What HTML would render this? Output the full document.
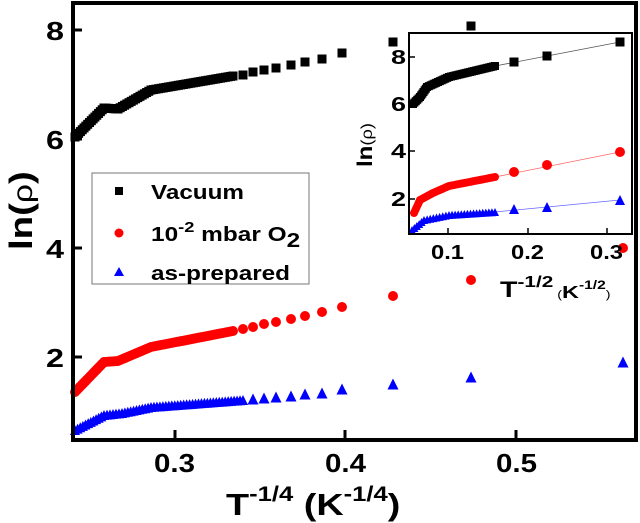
<!DOCTYPE html>
<html><head><meta charset="utf-8"><style>
html,body{margin:0;padding:0;background:#fff;}
svg{display:block;font-family:"Liberation Sans",Arial,sans-serif;font-weight:bold;}
</style></head><body>
<svg id="s" width="640" height="523" viewBox="0 0 640 523" xmlns="http://www.w3.org/2000/svg">
<rect x="0" y="0" width="640" height="523" fill="#fff"/>
<g id="data"></g>
<rect x="73" y="3" width="563" height="437" fill="none" stroke="#000" stroke-width="4"/>
<g stroke="#000" stroke-width="3">
<line x1="175" y1="440" x2="175" y2="430"/><line x1="345" y1="440" x2="345" y2="430"/><line x1="516" y1="440" x2="516" y2="430"/>
<line x1="73" y1="30" x2="82" y2="30"/><line x1="73" y1="139" x2="82" y2="139"/><line x1="73" y1="248" x2="82" y2="248"/><line x1="73" y1="357" x2="82" y2="357"/>
</g>
<g font-size="26">
<text x="154" y="472" textLength="41" lengthAdjust="spacingAndGlyphs">0.3</text>
<text x="325" y="472" textLength="41" lengthAdjust="spacingAndGlyphs">0.4</text>
<text x="496" y="472" textLength="41" lengthAdjust="spacingAndGlyphs">0.5</text>
<text x="46" y="40" textLength="18" lengthAdjust="spacingAndGlyphs">8</text>
<text x="46" y="149" textLength="18" lengthAdjust="spacingAndGlyphs">6</text>
<text x="46" y="258" textLength="18" lengthAdjust="spacingAndGlyphs">4</text>
<text x="46" y="367" textLength="18" lengthAdjust="spacingAndGlyphs">2</text>
</g>
<g transform="translate(226,515) scale(1.22,1)">
<text x="0" y="0" font-size="31">T<tspan font-size="21" dy="-14">-1/4</tspan><tspan font-size="31" dy="14"> (K</tspan><tspan font-size="21" dy="-14">-1/4</tspan><tspan font-size="31" dy="14">)</tspan></text>
</g>
<g transform="translate(32,250) rotate(-90) scale(1.2,1)">
<text x="0" y="0" font-size="32">ln(<tspan font-weight="normal" font-size="28">ρ</tspan>)</text>
</g>
<rect x="92" y="173" width="217" height="111" fill="#fff" stroke="#777" stroke-width="1"/>
<rect x="115" y="187" width="8" height="8" fill="#000"/>
<circle cx="119" cy="233" r="4.5" fill="#f00"/>
<polygon points="119,267 124,276 114,276" fill="#00f"/>
<g font-size="20">
<text x="151" y="199" textLength="93" lengthAdjust="spacingAndGlyphs">Vacuum</text>
<g transform="translate(151,241) scale(1.22,1)"><text x="0" y="0">10<tspan font-size="15" dy="-9">-2</tspan><tspan font-size="20" dy="9"> mbar O</tspan><tspan font-size="20" dy="6">2</tspan></text></g>
<text x="151" y="280" textLength="139" lengthAdjust="spacingAndGlyphs">as-prepared</text>
</g>
<g id="inset"></g>
<rect x="409" y="33" width="223" height="201" fill="none" stroke="#000" stroke-width="2"/>
<g stroke="#000" stroke-width="1.5">
<line x1="448" y1="234" x2="448" y2="228"/><line x1="528" y1="234" x2="528" y2="228"/><line x1="607" y1="234" x2="607" y2="228"/>
<line x1="409" y1="57" x2="415" y2="57"/><line x1="409" y1="104" x2="415" y2="104"/><line x1="409" y1="151" x2="415" y2="151"/><line x1="409" y1="199" x2="415" y2="199"/>
</g>
<g font-size="20">
<text x="431" y="259" textLength="33" lengthAdjust="spacingAndGlyphs">0.1</text>
<text x="511" y="259" textLength="33" lengthAdjust="spacingAndGlyphs">0.2</text>
<text x="590" y="259" textLength="33" lengthAdjust="spacingAndGlyphs">0.3</text>
<text x="391" y="64" textLength="15" lengthAdjust="spacingAndGlyphs">8</text>
<text x="391" y="111" textLength="15" lengthAdjust="spacingAndGlyphs">6</text>
<text x="391" y="158" textLength="15" lengthAdjust="spacingAndGlyphs">4</text>
<text x="391" y="206" textLength="15" lengthAdjust="spacingAndGlyphs">2</text>
</g>
<g transform="translate(372,167) rotate(-90)">
<text x="0" y="0" font-size="21" textLength="44" lengthAdjust="spacingAndGlyphs">ln<tspan font-weight="normal" font-size="16">(ρ)</tspan></text>
</g>
<g transform="translate(500,297) scale(1.3,1)">
<text x="0" y="0" font-size="22">T<tspan font-size="16" dy="-10">-1/2</tspan><tspan font-size="11" font-weight="normal" dy="11"> (</tspan><tspan font-size="18" dy="0">K</tspan><tspan font-size="12" dy="-9">-1/2</tspan><tspan font-size="11" font-weight="normal" dy="9">)</tspan></text>
</g>
</svg>
<script>
var NS="http://www.w3.org/2000/svg";
function el(p,t,a){var e=document.createElementNS(NS,t);for(var k in a)e.setAttribute(k,a[k]);p.appendChild(e);return e;}
function mk(p,type,x,y,s){
 if(type==0) el(p,"rect",{x:x-s/2,y:y-s/2,width:s,height:s,fill:"#000"});
 else if(type==1) el(p,"circle",{cx:x,cy:y,r:s/2,fill:"#f00"});
 else el(p,"polygon",{points:(x)+","+(y-s/2)+" "+(x+s/2)+","+(y+s/2)+" "+(x-s/2)+","+(y+s/2),fill:"#00f"});
}
function path(p,type,pts,step,s){
 for(var i=0;i<pts.length-1;i++){var a=pts[i],b=pts[i+1];var d=Math.hypot(b[0]-a[0],b[1]-a[1]);var n=Math.max(1,Math.round(d/step));
  for(var j=0;j<n;j++){var t=j/n;mk(p,type,a[0]+(b[0]-a[0])*t,a[1]+(b[1]-a[1])*t,s);}}
 var l=pts[pts.length-1];mk(p,type,l[0],l[1],s);
}
var g=document.getElementById("data");
path(g,0,[[75,137],[104,108],[118,109],[151,90],[233,76]],2.5,9);
path(g,1,[[75,392],[104,362],[118,361],[151,347],[233,331]],2.5,10);
path(g,2,[[75,430],[104,415],[122,413],[151,407],[243,400]],3,10);
[[243,75],[253,72],[264,70],[276,68],[291,65],[305,62],[322,59],[342,53],[393,42],[471,26]].forEach(function(p){mk(g,0,p[0],p[1],9);});
[[243,329],[253,327],[264,324],[276,322],[291,319],[305,316],[322,312],[342,307],[393,296],[471,280],[623,248]].forEach(function(p){mk(g,1,p[0],p[1],10);});
[[253,399],[264,398],[276,397],[291,396],[305,394],[322,393],[342,389],[393,384],[471,377],[623,362]].forEach(function(p){mk(g,2,p[0],p[1],11);});
var h=document.getElementById("inset");
el(h,"rect",{x:409,y:33,width:223,height:201,fill:"#fff"});
el(h,"line",{x1:495,y1:66,x2:620,y2:42,stroke:"#555","stroke-width":0.8});
el(h,"line",{x1:495,y1:177,x2:620,y2:152,stroke:"#f66","stroke-width":0.8});
el(h,"line",{x1:495,y1:212,x2:620,y2:200,stroke:"#66f","stroke-width":0.8});
path(h,0,[[413,104],[420,97],[427,87],[449,77],[495,66]],2,8);
path(h,1,[[414,213],[420,200],[433,193],[449,186],[495,177]],2,8);
path(h,2,[[412,230],[424,220],[449,215],[495,212]],3,8);
[[514,62],[547,56],[620,42]].forEach(function(p){mk(h,0,p[0],p[1],9);});
[[514,172],[547,165],[620,152]].forEach(function(p){mk(h,1,p[0],p[1],10);});
[[514,209],[547,207],[620,200]].forEach(function(p){mk(h,2,p[0],p[1],10);});
</script>
</body></html>
